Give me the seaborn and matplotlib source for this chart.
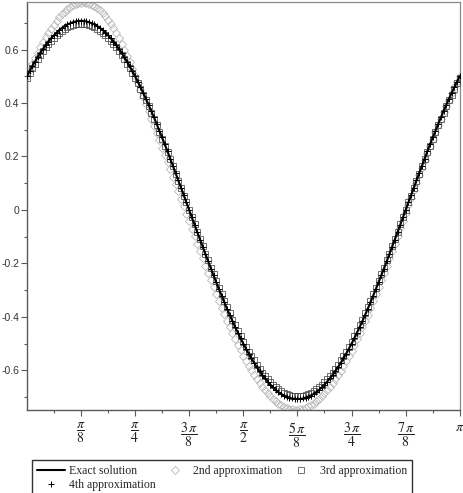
import numpy as np
import pandas as pd
import matplotlib
matplotlib.use('Agg')
import matplotlib.pyplot as plt
from matplotlib.lines import Line2D
import seaborn as sns
from matplotlib.ticker import FixedLocator, FixedFormatter

# colours
BLACK = '#000000'
GRAY_SQ = '#4a4a4a'    # squares, 3rd approximation
GRAY_DI = '#b8b8b8'    # diamonds, 2nd approximation
AXIS_D, AXIS_L = '#5a5a5a', '#8a8a8a'

# sample grid on [0, pi]
n_points = 161
x_vals = np.linspace(0, np.pi, n_points)

exact = [
    0.500, 0.519, 0.538, 0.555, 0.572, 0.588, 0.603, 0.617, 0.630, 0.642,
    0.653, 0.663, 0.673, 0.681, 0.688, 0.694, 0.698, 0.702, 0.705, 0.707,
    0.707, 0.707, 0.705, 0.702, 0.698, 0.694, 0.688, 0.681, 0.673, 0.663,
    0.653, 0.642, 0.630, 0.617, 0.603, 0.588, 0.572, 0.555, 0.538, 0.519,
    0.500, 0.480, 0.459, 0.438, 0.416, 0.393, 0.370, 0.346, 0.321, 0.296,
    0.271, 0.245, 0.219, 0.192, 0.165, 0.138, 0.111, 0.083, 0.055, 0.028,
    0.000, -0.028, -0.055, -0.083, -0.111, -0.138, -0.165, -0.192, -0.219, -0.245,
    -0.271, -0.296, -0.321, -0.346, -0.370, -0.393, -0.416, -0.438, -0.459, -0.480,
    -0.500, -0.519, -0.538, -0.555, -0.572, -0.588, -0.603, -0.617, -0.630, -0.642,
    -0.653, -0.663, -0.673, -0.681, -0.688, -0.694, -0.698, -0.702, -0.705, -0.707,
    -0.707, -0.707, -0.705, -0.702, -0.698, -0.694, -0.688, -0.681, -0.673, -0.663,
    -0.653, -0.642, -0.630, -0.617, -0.603, -0.588, -0.572, -0.555, -0.538, -0.519,
    -0.500, -0.480, -0.459, -0.438, -0.416, -0.393, -0.370, -0.346, -0.321, -0.296,
    -0.271, -0.245, -0.219, -0.192, -0.165, -0.138, -0.111, -0.083, -0.055, -0.028,
    0.000, 0.028, 0.055, 0.083, 0.111, 0.138, 0.165, 0.192, 0.219, 0.245,
    0.271, 0.296, 0.321, 0.346, 0.370, 0.393, 0.416, 0.438, 0.459, 0.480,
    0.500]

approx2 = [
    0.500, 0.523, 0.546, 0.567, 0.588, 0.608, 0.627, 0.645, 0.662, 0.678,
    0.693, 0.707, 0.720, 0.732, 0.742, 0.751, 0.758, 0.765, 0.770, 0.774,
    0.775, 0.776, 0.775, 0.772, 0.768, 0.763, 0.756, 0.747, 0.737, 0.724,
    0.711, 0.696, 0.680, 0.662, 0.643, 0.622, 0.600, 0.577, 0.553, 0.527,
    0.502, 0.476, 0.449, 0.423, 0.396, 0.369, 0.342, 0.315, 0.287, 0.260,
    0.233, 0.206, 0.179, 0.152, 0.124, 0.097, 0.070, 0.041, 0.013, -0.014,
    -0.042, -0.070, -0.097, -0.126, -0.154, -0.181, -0.208, -0.235, -0.263, -0.289,
    -0.315, -0.340, -0.365, -0.390, -0.414, -0.438, -0.461, -0.483, -0.504, -0.525,
    -0.545, -0.564, -0.583, -0.600, -0.617, -0.633, -0.648, -0.662, -0.674, -0.686,
    -0.697, -0.707, -0.716, -0.724, -0.731, -0.736, -0.740, -0.743, -0.746, -0.747,
    -0.747, -0.746, -0.744, -0.740, -0.735, -0.731, -0.724, -0.716, -0.708, -0.697,
    -0.686, -0.674, -0.662, -0.648, -0.633, -0.618, -0.601, -0.583, -0.566, -0.546,
    -0.526, -0.505, -0.484, -0.462, -0.439, -0.416, -0.392, -0.367, -0.342, -0.316,
    -0.290, -0.263, -0.237, -0.209, -0.181, -0.154, -0.126, -0.097, -0.069, -0.041,
    -0.012, 0.017, 0.044, 0.073, 0.102, 0.129, 0.157, 0.185, 0.212, 0.239,
    0.265, 0.291, 0.316, 0.342, 0.366, 0.390, 0.413, 0.436, 0.458, 0.479,
    0.500]

approx3 = [
    0.493, 0.511, 0.530, 0.547, 0.563, 0.579, 0.594, 0.608, 0.621, 0.632,
    0.643, 0.653, 0.663, 0.671, 0.678, 0.684, 0.688, 0.691, 0.694, 0.696,
    0.696, 0.696, 0.694, 0.691, 0.688, 0.684, 0.678, 0.671, 0.663, 0.653,
    0.643, 0.632, 0.621, 0.608, 0.594, 0.579, 0.563, 0.547, 0.530, 0.511,
    0.493, 0.473, 0.452, 0.431, 0.410, 0.387, 0.364, 0.341, 0.316, 0.292,
    0.267, 0.241, 0.216, 0.189, 0.163, 0.136, 0.109, 0.082, 0.054, 0.028,
    0.000, -0.028, -0.054, -0.082, -0.109, -0.136, -0.163, -0.189, -0.216, -0.241,
    -0.267, -0.292, -0.316, -0.341, -0.364, -0.387, -0.410, -0.431, -0.452, -0.473,
    -0.493, -0.511, -0.530, -0.547, -0.563, -0.579, -0.594, -0.608, -0.621, -0.632,
    -0.643, -0.653, -0.663, -0.671, -0.678, -0.684, -0.688, -0.691, -0.694, -0.696,
    -0.696, -0.696, -0.694, -0.691, -0.688, -0.684, -0.678, -0.671, -0.663, -0.653,
    -0.643, -0.632, -0.621, -0.608, -0.594, -0.579, -0.563, -0.547, -0.530, -0.511,
    -0.493, -0.473, -0.452, -0.431, -0.410, -0.387, -0.364, -0.341, -0.316, -0.292,
    -0.267, -0.241, -0.216, -0.189, -0.163, -0.136, -0.109, -0.082, -0.054, -0.028,
    0.000, 0.028, 0.054, 0.082, 0.109, 0.136, 0.163, 0.189, 0.216, 0.241,
    0.267, 0.292, 0.316, 0.341, 0.364, 0.387, 0.410, 0.431, 0.452, 0.473,
    0.493]

approx4 = [
    0.500, 0.519, 0.538, 0.555, 0.572, 0.588, 0.603, 0.617, 0.630, 0.642,
    0.653, 0.663, 0.673, 0.681, 0.688, 0.694, 0.698, 0.702, 0.705, 0.707,
    0.707, 0.707, 0.705, 0.702, 0.698, 0.694, 0.688, 0.681, 0.673, 0.663,
    0.653, 0.642, 0.630, 0.617, 0.603, 0.588, 0.572, 0.555, 0.538, 0.519,
    0.500, 0.480, 0.459, 0.438, 0.416, 0.393, 0.370, 0.346, 0.321, 0.296,
    0.271, 0.245, 0.219, 0.192, 0.165, 0.138, 0.111, 0.083, 0.055, 0.028,
    0.000, -0.028, -0.055, -0.083, -0.111, -0.138, -0.165, -0.192, -0.219, -0.245,
    -0.271, -0.296, -0.321, -0.346, -0.370, -0.393, -0.416, -0.438, -0.459, -0.480,
    -0.500, -0.519, -0.538, -0.555, -0.572, -0.588, -0.603, -0.617, -0.630, -0.642,
    -0.653, -0.663, -0.673, -0.681, -0.688, -0.694, -0.698, -0.702, -0.705, -0.707,
    -0.707, -0.707, -0.705, -0.702, -0.698, -0.694, -0.688, -0.681, -0.673, -0.663,
    -0.653, -0.642, -0.630, -0.617, -0.603, -0.588, -0.572, -0.555, -0.538, -0.519,
    -0.500, -0.480, -0.459, -0.438, -0.416, -0.393, -0.370, -0.346, -0.321, -0.296,
    -0.271, -0.245, -0.219, -0.192, -0.165, -0.138, -0.111, -0.083, -0.055, -0.028,
    0.000, 0.028, 0.055, 0.083, 0.111, 0.138, 0.165, 0.192, 0.219, 0.245,
    0.271, 0.296, 0.321, 0.346, 0.370, 0.393, 0.416, 0.438, 0.459, 0.480,
    0.500]

series_labels = ['Exact solution', '2nd approximation',
                 '3rd approximation', '4th approximation']

xtick_labels = [r'$\dfrac{\pi}{8}$', r'$\dfrac{\pi}{4}$', r'$\dfrac{3\,\pi}{8}$',
                r'$\dfrac{\pi}{2}$', r'$\dfrac{5\,\pi}{8}$', r'$\dfrac{3\,\pi}{4}$',
                r'$\dfrac{7\,\pi}{8}$', r'$\pi$']
ytick_values = [-0.6, -0.4, -0.2, 0, 0.2, 0.4, 0.6]
ytick_labels = ['-0.6', '-0.4', '-0.2', '0', '0.2', '0.4', '0.6']

df = pd.DataFrame({'x': x_vals, 'exact': exact, 'approx2': approx2,
                   'approx3': approx3, 'approx4': approx4})

sns.set_style('white')
plt.rcParams['font.family'] = ['Liberation Serif', 'DejaVu Serif']
plt.rcParams['mathtext.fontset'] = 'stix'

fig = plt.figure(figsize=(4.63, 4.93), dpi=100)
ax = fig.add_axes([0.058, 0.169, 0.935, 0.826])

# marker styles, reused for the legend
sty2 = dict(linestyle='', marker='D', markersize=3.8, markerfacecolor='none',
            markeredgecolor=GRAY_DI, markeredgewidth=0.6, color=GRAY_DI)
sty3 = dict(linestyle='', marker='s', markersize=3.9, markerfacecolor='none',
            markeredgecolor=GRAY_SQ, markeredgewidth=0.55, color=GRAY_SQ)
sty1 = dict(color=BLACK, linewidth=1.5)
sty4 = dict(linestyle='', marker='+', markersize=4, markeredgewidth=0.7,
            markeredgecolor=BLACK, color=BLACK)

sns.lineplot(data=df, x='x', y='approx2', ax=ax, zorder=2, **sty2)
sns.lineplot(data=df, x='x', y='approx3', ax=ax, zorder=3, **sty3)
sns.lineplot(data=df, x='x', y='exact', ax=ax, zorder=4, **sty1)
sns.lineplot(data=df, x='x', y='approx4', ax=ax, zorder=5, **sty4)

ax.set_xlabel('')
ax.set_ylabel('')

# limits follow the data range, as in the original
all_y = exact + approx2 + approx3 + approx4
ax.set_xlim(0, np.pi)
ax.set_ylim(min(all_y), max(all_y))

# ticks
ax.xaxis.set_major_locator(FixedLocator([np.pi * k / 8 for k in range(1, 9)]))
ax.xaxis.set_major_formatter(FixedFormatter(xtick_labels))
ax.xaxis.set_minor_locator(FixedLocator([np.pi * (2 * k + 1) / 16 for k in range(8)]))
ax.yaxis.set_major_locator(FixedLocator(ytick_values))
ax.yaxis.set_major_formatter(FixedFormatter(ytick_labels))
ax.yaxis.set_minor_locator(FixedLocator([-0.7, -0.5, -0.3, -0.1, 0.1, 0.3, 0.5, 0.7]))

ax.tick_params(which='major', direction='out', length=4, width=0.8, color=AXIS_D,
               bottom=True, left=True)
ax.tick_params(which='minor', direction='out', length=2, width=0.8, color=AXIS_D,
               bottom=True, left=True)
ax.tick_params(axis='x', pad=4, labelsize=10, labelcolor='#222222')
ax.tick_params(axis='y', pad=1.5, labelsize=7.5, labelcolor='#333333')
for lab in ax.get_yticklabels():
    lab.set_family('Liberation Sans')

for side in ['left', 'bottom']:
    ax.spines[side].set_color(AXIS_D)
    ax.spines[side].set_linewidth(1.0)
for side in ['top', 'right']:
    ax.spines[side].set_color(AXIS_L)
    ax.spines[side].set_linewidth(0.9)

# legend below the plot, exact and 4th in the first column
leg_handles = [Line2D([], [], **sty1), Line2D([], [], **sty4),
               Line2D([], [], **sty2), Line2D([], [], **sty3)]
leg_labels = [series_labels[i] for i in [0, 3, 1, 2]]
fig.legend(leg_handles, leg_labels,
           loc='upper left', bbox_to_anchor=(32 / 463, 1 - 460 / 493),
           ncol=3, frameon=True, fancybox=False, edgecolor='#333333',
           framealpha=1, fontsize=8.5, handlelength=2.4, handletextpad=0.35,
           columnspacing=0.4, labelspacing=0.2, borderpad=0.4,
           borderaxespad=0)

fig.savefig('out.png', dpi=100)
